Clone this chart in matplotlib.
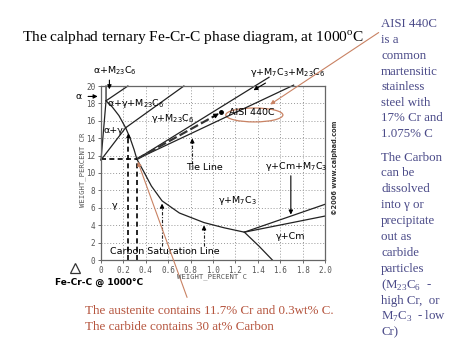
import matplotlib
matplotlib.use("Agg")
import matplotlib.pyplot as plt
from matplotlib.patches import Ellipse
from matplotlib.lines import Line2D

plt.rcParams['mathtext.fontset'] = 'custom'
plt.rcParams['mathtext.rm'] = 'Liberation Serif'
plt.rcParams['mathtext.sf'] = 'DejaVu Sans'

# ---------------- data (wt% C, wt% Cr) ----------------
c_ticks = [0, 0.2, 0.4, 0.6, 0.8, 1.0, 1.2, 1.4, 1.6, 1.8, 2.0]
c_tick_labels = ["0", "0.2", "0.4", "0.6", "0.8", "1.0", "1.2", "1.4", "1.6", "1.8", "2.0"]
cr_ticks = [0, 2, 4, 6, 8, 10, 12, 14, 16, 18, 20]

# alpha / alpha+gamma boundary
alpha_c = [0.0, 0.045, 0.045]
alpha_cr = [11.5, 18.3, 20.0]
# gamma / alpha+gamma boundary
ag_c = [0.0, 0.22]
ag_cr = [11.5, 15.2]
# alpha+gamma / alpha+gamma+M23C6 edge
agm_c = [0.045, 0.10, 0.16, 0.22]
agm_cr = [18.3, 17.6, 16.6, 15.2]
# gamma / gamma+M23C6 boundary
gm_c = [0.22, 0.26, 0.295, 0.32]
gm_cr = [15.2, 14.0, 12.7, 11.6]
# three-phase triangle edges to M23C6
e1_c = [0.045, 0.24]
e1_cr = [18.3, 20.0]
e2_c = [0.22, 0.74]
e2_cr = [15.2, 20.0]
# edges of gamma+M7C3+M23C6 triangle
e3_c = [0.32, 1.50]
e3_cr = [11.6, 21.0]
e4_c = [0.32, 1.72]
e4_cr = [11.6, 20.1]
# carbon saturation line
sat_c = [0.32, 0.38, 0.45, 0.545, 0.70, 0.92, 1.10, 1.28, 1.41, 1.53]
sat_cr = [11.6, 10.2, 8.5, 6.8, 5.4, 4.3, 3.7, 3.2, 1.6, 0.0]
# gamma+Cm+M7C3 triangle edges
e5_c = [1.28, 2.0]
e5_cr = [3.2, 6.4]
e6_c = [1.28, 2.0]
e6_cr = [3.2, 5.05]
# AISI 440C composition and austenite composition
aisi_c, aisi_cr = 1.075, 17.0
aus_c, aus_cr = 0.32, 11.6
aus2_c, aus2_cr = 0.245, 14.9
sat_marks_c = [0.545, 0.92]
sat_marks_cr = [6.8, 4.3]

W, H = 474, 355
fig = plt.figure(figsize=(W / 100, H / 100), dpi=100)
fig.patch.set_facecolor('white')


def fx(px):
    return px / W


def fy(py):
    return 1 - py / H


ax = fig.add_axes([fx(101), fy(260), 224 / W, 174 / H])
ax.set_xlim(0, 2.0)
ax.set_ylim(0, 20)
ax.set_xticks(c_ticks)
ax.set_xticklabels(c_tick_labels)
ax.set_yticks(cr_ticks)
for lab in ax.get_xticklabels() + ax.get_yticklabels():
    lab.set_fontfamily('DejaVu Sans Mono')
    lab.set_fontsize(5.5)
    lab.set_color('#444444')
ax.tick_params(direction='out', length=2.5, width=0.6, pad=1.5, colors='#555555')
for s in ax.spines.values():
    s.set_color('#666666')
    s.set_linewidth(0.9)
ax.grid(True, linestyle=(0, (1, 2)), color='#999999', linewidth=0.7)
ax.set_axisbelow(True)

lk = dict(color='#222222', linewidth=0.9, clip_on=False)
for xs, ys in [(alpha_c, alpha_cr), (ag_c, ag_cr), (agm_c, agm_cr), (gm_c, gm_cr),
               (e1_c, e1_cr), (e2_c, e2_cr), (e3_c, e3_cr), (e4_c, e4_cr),
               (sat_c, sat_cr), (e5_c, e5_cr), (e6_c, e6_cr)]:
    ax.plot(xs, ys, **lk)

# dashed guide lines to the austenite corner
dk = dict(color='black', linewidth=1.2, linestyle=(0, (3, 2)))
ax.plot([0, aus_c], [aus_cr, aus_cr], **dk)
ax.plot([aus_c, aus_c], [0, aus_cr], **dk)
ax.plot([aus2_c, aus2_c], [0, aus2_cr - 0.6], **dk)
ax.annotate('', xy=(aus2_c, aus2_cr), xytext=(aus2_c, aus2_cr - 1.2),
            arrowprops=dict(arrowstyle='-|>', color='black', lw=0.8, mutation_scale=6))

# tie line
ax.plot([aus_c, aisi_c - 0.05], [aus_cr, aisi_cr - 0.36], color='#333333',
        linewidth=1.6, linestyle=(0, (4, 1.5)))
ax.annotate('', xy=(aisi_c, aisi_cr), xytext=(aisi_c - 0.1, aisi_cr - 0.72),
            arrowprops=dict(arrowstyle='-|>', color='black', lw=0.8, mutation_scale=7))
ax.plot([aisi_c], [aisi_cr], 'o', color='black', markersize=2.5)

# dash-dot pointer arrows
ddk = dict(color='#222222', linewidth=0.8, linestyle=(0, (3, 1.5, 1, 1.5)))
for xc, yc in zip(sat_marks_c, sat_marks_cr):
    ax.plot([xc, xc], [1.6, yc - 0.5], **ddk)
    ax.annotate('', xy=(xc, yc), xytext=(xc, yc - 1.0),
                arrowprops=dict(arrowstyle='-|>', color='black', lw=0.8, mutation_scale=6))
ax.plot([0.815, 0.815], [11.0, 13.8], **ddk)
ax.annotate('', xy=(0.815, 14.3), xytext=(0.815, 13.3),
            arrowprops=dict(arrowstyle='-|>', color='black', lw=0.8, mutation_scale=6))

# solid pointer arrows
ak = dict(arrowstyle='-|>', color='black', lw=0.8, mutation_scale=6)
ax.annotate('', xy=(1.695, 4.9), xytext=(1.695, 10.0), arrowprops=ak)
ax.annotate('', xy=(1.34, 19.35), xytext=(1.49, 20.5), arrowprops=ak, annotation_clip=False)
ax.annotate('', xy=(0.075, 19.3), xytext=(0.075, 21.0), arrowprops=ak, annotation_clip=False)
ax.annotate('', xy=(-0.005, 18.8), xytext=(-0.14, 18.8), arrowprops=ak, annotation_clip=False)

# phase labels
lf = dict(fontsize=6.8, color='black', clip_on=False, family='DejaVu Sans')
ax.text(-0.20, 18.8, 'α', ha='center', va='center', **lf)
ax.text(0.125, 21.7, 'α+M$_{\\mathsf{23}}$C$_{\\mathsf{6}}$', ha='center', va='center', **lf)
ax.text(0.05, 18.0, 'α+γ+M$_{\\mathsf{23}}$C$_{\\mathsf{6}}$', ha='left', va='center', **lf)
ax.text(0.02, 14.9, 'α+γ', ha='left', va='center', **lf)
ax.text(0.64, 16.3, 'γ+M$_{\\mathsf{23}}$C$_{\\mathsf{6}}$', ha='center', va='center', **lf)
ax.text(1.67, 21.5, 'γ+M$_{\\mathsf{7}}$C$_{\\mathsf{3}}$+M$_{\\mathsf{23}}$C$_{\\mathsf{6}}$', ha='center', va='center', **lf)
ax.text(aisi_c + 0.07, aisi_cr, 'AISI 440C', ha='left', va='center', **lf)
ax.text(0.92, 10.6, 'Tie Line', ha='center', va='center', **lf)
ax.text(0.125, 6.3, 'γ', ha='center', va='center', **lf)
ax.text(1.22, 6.8, 'γ+M$_{\\mathsf{7}}$C$_{\\mathsf{3}}$', ha='center', va='center', **lf)
ax.text(1.74, 10.7, 'γ+Cm+M$_{\\mathsf{7}}$C$_{\\mathsf{3}}$', ha='center', va='center', **lf)
ax.text(1.695, 2.7, 'γ+Cm', ha='center', va='center', **lf)
ax.text(0.57, 0.95, 'Carbon Saturation Line', ha='center', va='center', **lf)

red_line = '#c98263'
ax.add_patch(Ellipse((1.369, 16.67), 0.51, 1.6, fill=False, edgecolor=red_line, linewidth=0.9))

# axis titles and credits
fig.text(fx(83), fy(170), 'WEIGHT_PERCENT CR', rotation=90, ha='center', va='center',
         fontsize=5.2, family='DejaVu Sans Mono', color='#555555')
fig.text(fx(212), fy(277), 'WEIGHT_PERCENT C', ha='center', va='center',
         fontsize=5.2, family='DejaVu Sans Mono', color='#555555')
fig.text(fx(335), fy(168), '©2006 www.calphad.com', rotation=90, ha='center', va='center',
         fontsize=4.8, weight='bold', family='DejaVu Sans', color='#333333')
fig.text(fx(55), fy(282), 'Fe-Cr-C @ 1000°C', ha='left', va='center',
         fontsize=6.5, weight='bold', family='DejaVu Sans', color='black')
fig.add_artist(Line2D([fx(75)], [fy(268)], marker='^', markersize=7, markerfacecolor='white',
                      markeredgecolor='#333333', markeredgewidth=0.9, transform=fig.transFigure))

# slide title
fig.text(fx(22), fy(38), 'The calphad ternary Fe-Cr-C phase diagram, at 1000$^{\\mathrm{o}}$C',
         ha='left', va='center', fontsize=11.1, family='Liberation Serif', color='black')

# right-hand notes
blue = '#4a4a88'
notes = [
    (23.3, 'AISI 440C'), (39.3, 'is a'), (55, 'common'), (70.7, 'martensitic'),
    (86, 'stainless'), (101.7, 'steel with'), (117.3, '17% Cr and'), (132.7, '1.075% C'),
    (156.7, 'The Carbon'), (172, 'can be'), (188, 'dissolved'), (204, 'into γ or'),
    (220, 'precipitate'), (236, 'out as'), (251.7, 'carbide'), (268, 'particles'),
    (284, '(M$_{\\mathrm{23}}$C$_{\\mathrm{6}}$  -'), (300, 'high Cr,  or'),
    (316, 'M$_{\\mathrm{7}}$C$_{\\mathrm{3}}$  - low'), (331.7, 'Cr)'),
]
for yy, t in notes:
    fig.text(fx(381), fy(yy + 4), t, ha='left', va='baseline', fontsize=9.3,
             family='Liberation Serif', color=blue)

# bottom notes
redt = '#b5543d'
fig.text(fx(85), fy(314), 'The austenite contains 11.7% Cr and 0.3wt% C.', ha='left',
         va='baseline', fontsize=9.4, family='Liberation Serif', color=redt)
fig.text(fx(85), fy(330), 'The carbide contains 30 at% Carbon', ha='left',
         va='baseline', fontsize=9.4, family='Liberation Serif', color=redt)

# connector lines
ax.annotate('', xy=(aus_c, aus_cr), xytext=(188, H - 300), textcoords='figure pixels',
            arrowprops=dict(arrowstyle='-|>', color=red_line, lw=0.8, mutation_scale=6),
            annotation_clip=False)
ax.annotate('', xy=(1.49, 17.7), xytext=(381, H - 31), textcoords='figure pixels',
            arrowprops=dict(arrowstyle='-|>', color=red_line, lw=0.8, mutation_scale=6),
            annotation_clip=False)

fig.savefig('out.png', dpi=100, facecolor='white')
